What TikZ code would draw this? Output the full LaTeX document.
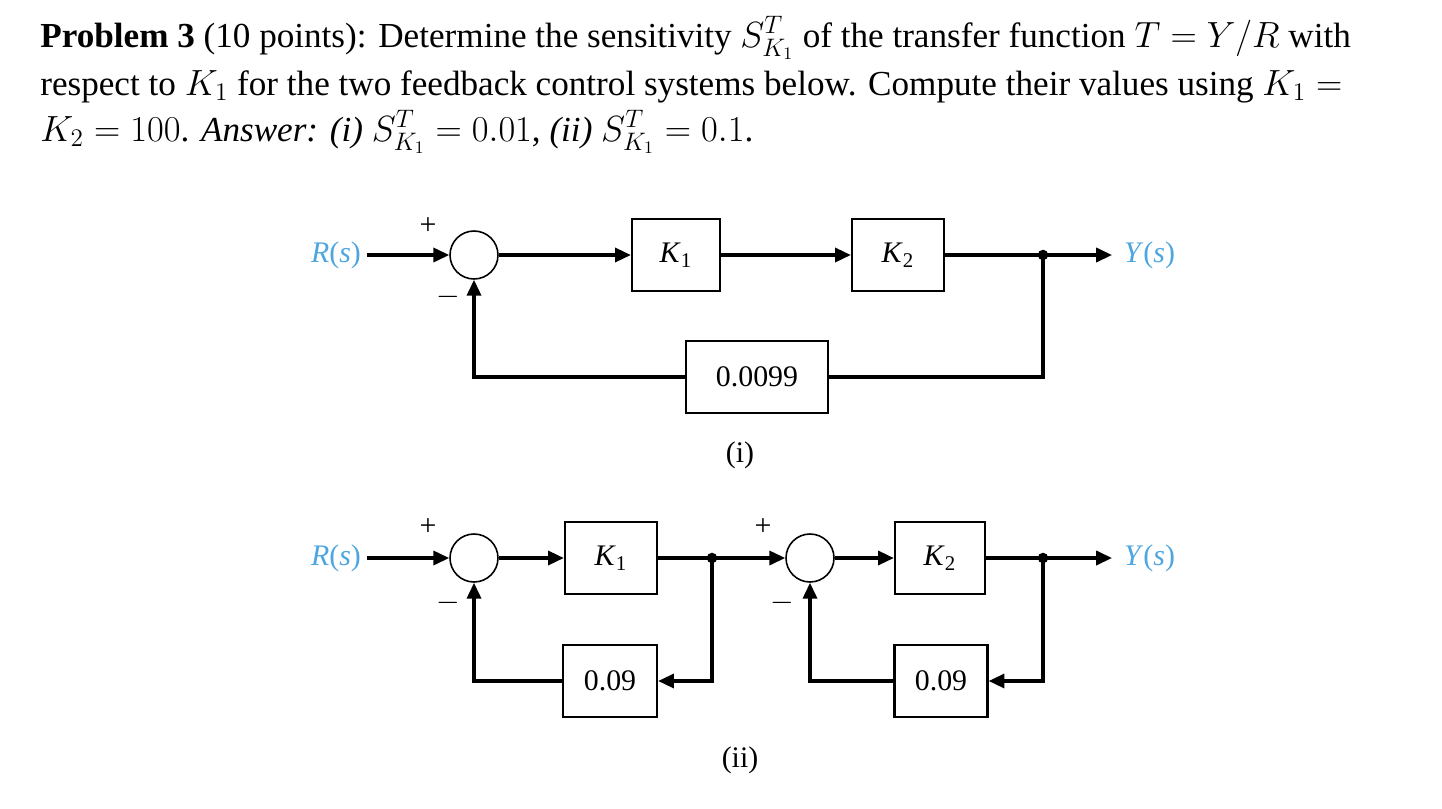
\documentclass[tikz,border=0pt]{standalone}
\usepackage{fontspec}
\setmainfont{Liberation Serif}
\usetikzlibrary{arrows.meta}
\definecolor{sigblue}{RGB}{77,166,224}
\tikzset{
  blk/.style={draw,line width=1.3pt,minimum height=1.44cm,inner sep=0pt,font=\fontsize{17}{20}\selectfont},
  sum/.style={circle,draw,line width=0.9pt,minimum size=0.96cm,inner sep=0pt},
  sig/.style={line width=1.8pt},
  arr/.style={sig,-{Triangle[length=9pt,width=8pt]}},
  lbl/.style={font=\fontsize{17}{20}\selectfont},
  pt/.style={circle,fill,inner sep=0pt,minimum size=6pt},
  txt/.style={anchor=base west,inner sep=0pt,font=\fontsize{20}{24}\selectfont}
}
\newcommand{\kk}[1]{\textit{K}\textsubscript{#1}}
\begin{document}
\begin{tikzpicture}[x=0.02cm,y=-0.02cm]
\useasboundingbox (0,0) rectangle (1442,808);
% problem text
\node[txt] (l1) at (40,47)
 {\textbf{Problem 3} (10 points): Determine the sensitivity $S^T_{K_1}$ of the transfer function $T=Y/R$ with};
\node[txt] (l2) at (40,95)
 {respect to $K_1$ for the two feedback control systems below. Compute their values using $K_1=$};
\node[txt] (l3) at (40,141)
 {$K_2=100$. \textit{Answer: (i)} $S^T_{K_1}=0.01$, \textit{(ii)} $S^T_{K_1}=0.1$.};
% system (i)
\node[lbl,text=sigblue] (R1) at (336,255) {\textit{R}(\textit{s})};
\node[sum] (S1) at (474,255) {};
\node[blk,minimum width=1.76cm] (A1) at (676,255) {\kk{1}};
\node[blk,minimum width=1.84cm] (A2) at (898,255) {\kk{2}};
\coordinate (P1) at (1043,255);
\node[pt] (D1) at (P1) {};
\coordinate (E1) at (1112,255);
\node[lbl,text=sigblue,anchor=west] (Y1) at (1118,255) {\textit{Y}(\textit{s})};
\node[blk,minimum width=2.84cm] (H1) at (757,377) {0.0099};
\draw[arr] (R1.east) -- (S1.west);
\draw[arr] (S1.east) -- (A1.west);
\draw[arr] (A1.east) -- (A2.west);
\draw[sig] (A2.east) -- (P1);
\draw[arr] (P1) -- (E1);
\draw[sig] (P1) |- (H1.east);
\draw[arr] (H1.west) -| (S1.south);
\node[lbl] at (428,226) {+};
\node[lbl] at (448,297) {$-$};
\node[lbl] (c1) at (740,455) {(i)};
% system (ii)
\node[lbl,text=sigblue] (R2) at (336,558) {\textit{R}(\textit{s})};
\node[sum] (S2) at (474,558) {};
\node[blk,minimum width=1.84cm] (B1) at (611,558) {\kk{1}};
\coordinate (P2) at (712,558);
\node[pt] (D2) at (P2) {};
\node[sum] (S3) at (810,558) {};
\node[blk,minimum width=1.8cm] (B2) at (940,558) {\kk{2}};
\coordinate (P3) at (1043,558);
\node[pt] (D3) at (P3) {};
\coordinate (E2) at (1112,558);
\node[lbl,text=sigblue,anchor=west] (Y2) at (1118,558) {\textit{Y}(\textit{s})};
\node[blk,minimum width=1.88cm] (G1) at (610,681) {0.09};
\node[blk,minimum width=1.86cm] (G2) at (941,681) {0.09};
\draw[arr] (R2.east) -- (S2.west);
\draw[arr] (S2.east) -- (B1.west);
\draw[sig] (B1.east) -- (P2);
\draw[arr] (P2) -- (S3.west);
\draw[arr] (S3.east) -- (B2.west);
\draw[sig] (B2.east) -- (P3);
\draw[arr] (P3) -- (E2);
\draw[arr] (P2) |- (G1.east);
\draw[arr] (G1.west) -| (S2.south);
\draw[arr] (P3) |- (G2.east);
\draw[arr] (G2.west) -| (S3.south);
\node[lbl] at (428,527) {+};
\node[lbl] at (448,603) {$-$};
\node[lbl] at (763,527) {+};
\node[lbl] at (782,603) {$-$};
\node[lbl] (c2) at (740,760) {(ii)};
\end{tikzpicture}
\end{document}
